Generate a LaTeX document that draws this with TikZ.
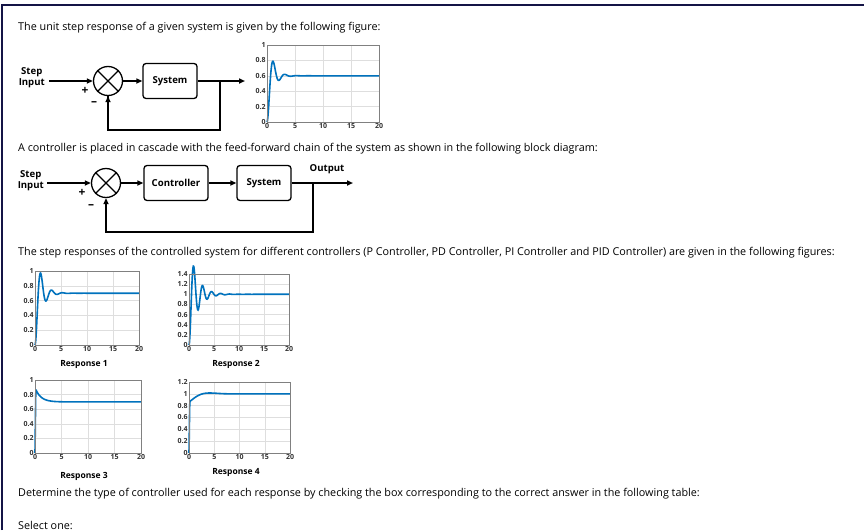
\documentclass[tikz,border=0pt]{standalone}
\usepackage{fontspec}
\setmainfont{Open Sans}
\usetikzlibrary{arrows.meta}
\definecolor{navy}{RGB}{20,20,70}
\definecolor{mblue}{RGB}{0,114,189}
\definecolor{gridc}{RGB}{222,222,222}
\definecolor{tickc}{RGB}{50,50,50}
\tikzset{
  txt/.style={anchor=west,font=\fontsize{10.8}{12}\selectfont,inner sep=0},
  lbl/.style={font=\bfseries\fontsize{9.6}{11}\selectfont,align=center,inner sep=0},
  sgn/.style={font=\bfseries\fontsize{12}{12}\selectfont,inner sep=0},
  blk/.style={draw,line width=1.3pt,rounded corners=3pt,minimum height=35pt,font=\bfseries\fontsize{9.6}{11}\selectfont},
  sumj/.style={draw,circle,line width=1.3pt,minimum size=29pt,inner sep=0},
  sig/.style={line width=1.6pt,-{Triangle[length=6pt,width=5pt]}},
  fb/.style={line width=1.6pt},
  curve/.style={mblue,line width=1.6pt},
  tick/.style={font=\bfseries\fontsize{7}{8}\selectfont,text=tickc,inner sep=1.2pt},
  rlbl/.style={font=\bfseries\fontsize{8.5}{9}\selectfont,inner sep=0}
}
% x0, ytop, x1, ybottom, ymax, ylabels, function
\newcommand\rplot[7]{%
\begin{scope}[shift={(#1,#4)},xscale={(#3-#1)/20},yscale={-(#4-#2)/#5}]
  \foreach \xx in {5,10,15} \draw[gridc,line width=0.5pt] (\xx,0)--(\xx,#5);
  \foreach \yy in {#6} \draw[gridc,line width=0.5pt] (0,\yy)--(20,\yy);
  \draw[curve] plot[domain=0:20,samples=300,smooth] (\x,{#7});
  \draw[gray,line width=0.6pt] (0,0) rectangle (20,#5);
  \foreach \xx in {0,5,10,15,20} \node[tick,below] at (\xx,0) {\xx};
  \foreach \yy in {#6} \node[tick,left] at (0,\yy) {\yy};
\end{scope}}
\newcommand\sumx[1]{\draw[line width=1.1pt] (#1.north east)--(#1.south west) (#1.north west)--(#1.south east);}
\begin{document}
\begin{tikzpicture}[x=1pt,y=-1pt]
\useasboundingbox (0,0) rectangle (864,530);
\fill[white] (0,0) rectangle (864,530);
\draw[navy,line width=1.5pt] (2,530)--(2,5)--(864,5);

\node[txt] (t1) at (18,28) {The unit step response of a given system is given by the following figure:};

% diagram 1
\node[lbl,anchor=east] (si1) at (45,78) {Step\\Input};
\coordinate (in1) at (49,81);
\node[sumj] (s1) at (108,81) {}; \sumx{s1}
\node[blk,minimum width=54pt] (sys1) at (170,81) {System};
\coordinate (o1) at (245,81);
\coordinate (b1) at (220,81);
\node[sgn] (p1) at (85,91) {+};
\node[sgn] (m1) at (94,104) {--};
\draw[sig] (in1)--(s1);
\draw[sig] (s1)--(sys1);
\draw[sig] (sys1)--(o1);
\draw[fb] (b1)--(220,130)-|(s1.south);
\draw[sig] (108,125)--(s1.south);

\rplot{267}{45}{379}{122}{1}{0,0.2,0.4,0.6,0.8,1}{0.6*(1-exp(-1.1*\x)*(cos(3*\x r)+0.3667*sin(3*\x r)))}

\node[txt] (t2) at (18,149) {A controller is placed in cascade with the feed-forward chain of the system as shown in the following block diagram:};

% diagram 2
\node[lbl,anchor=east] (si2) at (44,181) {Step\\Input};
\coordinate (in2) at (47,183);
\node[sumj] (s2) at (106,183) {}; \sumx{s2}
\node[blk,minimum width=64pt] (ctl) at (176,183) {Controller};
\node[blk,minimum width=54pt] (sys2) at (264,183) {System};
\coordinate (o2) at (353,183);
\coordinate (b2) at (313,183);
\node[lbl] (out) at (327,169) {Output};
\node[sgn] (p2) at (82,193) {+};
\node[sgn] (m2) at (91,207) {--};
\draw[sig] (in2)--(s2);
\draw[sig] (s2)--(ctl);
\draw[sig] (ctl)--(sys2);
\draw[sig] (sys2)--(o2);
\draw[fb] (b2)--(313,232)-|(106,205);
\draw[sig] (106,225)--(s2.south);

\node[txt] (t3) at (18,253) {The step responses of the controlled system for different controllers (P Controller, PD Controller, PI Controller and PID Controller) are given in the following figures:};

\rplot{35}{271}{139}{345}{1}{0,0.2,0.4,0.6,0.8,1}{0.7*(1-exp(-0.9*\x)*(cos(3*\x r)+0.3*sin(3*\x r)))}
\node[rlbl] (r1) at (84,364) {Response 1};
\rplot{189}{274}{289}{345}{1.4}{0,0.2,0.4,0.6,0.8,1,1.2,1.4}{1-exp(-0.65*\x)*(cos(3.5*\x r)+0.186*sin(3.5*\x r))}
\node[rlbl] (r2) at (236,364) {Response 2};
\rplot{35}{380}{141}{453}{1}{0,0.2,0.4,0.6,0.8,1}{(\x<0.15 ? 0.87*\x/0.15 : 0.7+0.17*exp(-0.95*(\x-0.15)))}
\node[rlbl] (r3) at (84,476) {Response 3};
\rplot{189}{382}{290}{453}{1.2}{0,0.2,0.4,0.6,0.8,1,1.2}{(\x<0.15 ? 0.87*\x/0.15 : 1-0.13*exp(-0.5*(\x-0.15))*cos(0.62*(\x-0.15) r))}
\node[rlbl] (r4) at (236,472) {Response 4};

\node[txt] (t4) at (18,494) {Determine the type of controller used for each response by checking the box corresponding to the correct answer in the following table:};
\node[txt] (t5) at (18,525) {Select one:};
\end{tikzpicture}
\end{document}
